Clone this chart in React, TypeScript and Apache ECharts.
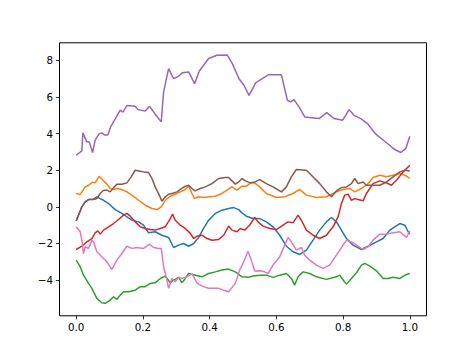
import React, { useEffect, useRef } from "react";
import * as echarts from "echarts";

const xTicks = [0, 0.2, 0.4, 0.6, 0.8, 1.0];
const yTicks = [-4, -2, 0, 2, 4, 6, 8];

const blue = [
  [0, -0.76], [0.009, -0.36], [0.017, 0], [0.027, 0.27], [0.037, 0.4], [0.052, 0.42], [0.062, 0.55],
  [0.072, 0.45], [0.082, 0.36], [0.097, 0.18], [0.117, -0.15], [0.137, -0.36], [0.152, -0.55],
  [0.167, -0.73], [0.187, -0.82], [0.202, -1.0], [0.217, -1.42], [0.237, -1.36], [0.257, -1.55],
  [0.277, -1.67], [0.292, -2.22], [0.307, -2.09], [0.322, -2.0], [0.337, -2.15], [0.352, -2.0],
  [0.367, -1.67], [0.382, -1.18], [0.397, -0.73], [0.417, -0.36], [0.437, -0.18], [0.457, -0.09],
  [0.472, -0.04], [0.487, -0.15], [0.497, -0.33], [0.51, -0.51], [0.53, -0.64], [0.55, -0.64],
  [0.57, -0.82], [0.59, -1.09], [0.61, -1.55], [0.63, -2.15], [0.65, -2.45], [0.67, -2.6],
  [0.69, -2.36], [0.71, -1.82], [0.73, -1.27], [0.75, -0.82], [0.765, -0.58], [0.78, -0.82],
  [0.795, -1.27], [0.81, -1.73], [0.83, -2.09], [0.855, -2.33], [0.875, -2.15], [0.9, -1.91],
  [0.92, -1.73], [0.94, -1.27], [0.955, -1.09], [0.97, -0.91], [0.985, -1.0], [0.995, -1.36],
  [1.0, -1.49],
];

const orange = [
  [0, 0.73], [0.012, 0.67], [0.027, 1.09], [0.037, 1.18], [0.049, 1.35], [0.057, 1.31],
  [0.069, 1.67], [0.082, 1.42], [0.092, 1.24], [0.102, 1.0], [0.112, 0.95], [0.122, 1.0],
  [0.137, 0.95], [0.152, 0.82], [0.167, 0.64], [0.187, 0.36], [0.207, 0.09], [0.227, -0.09],
  [0.242, -0.15], [0.255, 0], [0.267, 0.36], [0.282, 0.58], [0.297, 0.69], [0.312, 0.82],
  [0.327, 0.95], [0.337, 1.13], [0.347, 0.73], [0.355, 0.45], [0.367, 0.55], [0.382, 0.51],
  [0.397, 0.55], [0.417, 0.58], [0.437, 0.73], [0.452, 0.91], [0.467, 1.09], [0.482, 0.91],
  [0.497, 1.13], [0.51, 1.12], [0.52, 1.27], [0.53, 1.36], [0.55, 1.09], [0.57, 0.73],
  [0.6, 0.51], [0.625, 0.55], [0.65, 0.73], [0.67, 0.95], [0.69, 0.64], [0.72, 0.51],
  [0.75, 0.55], [0.78, 0.82], [0.8, 0.95], [0.82, 1.0], [0.835, 0.82], [0.855, 1.0],
  [0.875, 1.27], [0.89, 1.6], [0.91, 1.73], [0.93, 1.64], [0.95, 1.73], [0.97, 1.82],
  [0.985, 1.73], [1.0, 1.55],
];

const green = [
  [0, -2.91], [0.012, -3.27], [0.022, -3.73], [0.037, -4.18], [0.047, -4.45], [0.062, -5.0],
  [0.077, -5.24], [0.087, -5.27], [0.102, -5.09], [0.112, -4.91], [0.122, -5.05], [0.132, -4.82],
  [0.142, -4.64], [0.157, -4.64], [0.177, -4.55], [0.192, -4.36], [0.207, -4.36], [0.222, -4.18],
  [0.237, -4.15], [0.252, -3.91], [0.267, -3.78], [0.282, -4.15], [0.292, -4.0], [0.307, -3.85],
  [0.317, -4.15], [0.327, -3.91], [0.337, -3.64], [0.357, -3.73], [0.377, -3.82], [0.397, -3.64],
  [0.417, -3.55], [0.437, -3.45], [0.457, -3.4], [0.477, -3.55], [0.497, -3.82], [0.517, -3.85],
  [0.53, -3.78], [0.55, -3.73], [0.57, -3.73], [0.59, -3.85], [0.61, -3.73], [0.63, -3.64],
  [0.645, -3.91], [0.655, -4.27], [0.665, -3.82], [0.68, -3.55], [0.7, -3.64], [0.72, -3.82],
  [0.75, -3.96], [0.78, -3.82], [0.79, -3.73], [0.8, -4.0], [0.81, -4.22], [0.825, -3.91],
  [0.84, -3.6], [0.855, -3.18], [0.865, -3.09], [0.88, -3.24], [0.9, -3.49], [0.92, -3.91],
  [0.935, -3.91], [0.95, -3.85], [0.97, -3.91], [0.99, -3.69], [1.0, -3.64],
];

const red = [
  [0, -2.33], [0.017, -2.15], [0.032, -1.91], [0.047, -1.73], [0.057, -1.42], [0.065, -1.31],
  [0.072, -1.49], [0.082, -1.27], [0.097, -1.09], [0.112, -0.91], [0.127, -0.69], [0.142, -0.45],
  [0.152, -0.36], [0.162, -0.51], [0.177, -0.82], [0.192, -1.09], [0.207, -1.18], [0.222, -1.24],
  [0.237, -1.27], [0.252, -1.18], [0.267, -1.09], [0.282, -0.64], [0.289, -0.4], [0.297, -0.73],
  [0.312, -1.0], [0.327, -1.18], [0.342, -1.45], [0.352, -1.73], [0.362, -1.6], [0.377, -1.55],
  [0.392, -1.73], [0.407, -1.82], [0.427, -1.78], [0.442, -1.55], [0.457, -1.05], [0.467, -1.27],
  [0.482, -1.36], [0.492, -1.18], [0.505, -1.27], [0.52, -1.0], [0.535, -0.58], [0.545, -0.82],
  [0.56, -1.05], [0.58, -1.18], [0.6, -1.24], [0.62, -1.0], [0.635, -0.82], [0.65, -0.87],
  [0.665, -0.45], [0.675, -0.73], [0.69, -1.27], [0.71, -1.55], [0.73, -1.73], [0.75, -1.55],
  [0.77, -1.09], [0.785, -0.55], [0.795, 0.18], [0.805, 0.64], [0.815, 0.69], [0.825, 0.36],
  [0.835, 0.45], [0.845, 0.4], [0.86, 0.33], [0.87, 0.73], [0.89, 1.27], [0.91, 1.42],
  [0.93, 1.31], [0.945, 1.18], [0.96, 1.45], [0.98, 1.91], [1.0, 2.27],
];

const purple = [
  [0, 2.82], [0.017, 3.06], [0.02, 4.04], [0.032, 3.55], [0.039, 3.55], [0.049, 2.97],
  [0.057, 3.64], [0.069, 4.0], [0.077, 4.04], [0.085, 3.93], [0.095, 3.93], [0.104, 4.4],
  [0.117, 4.8], [0.132, 5.28], [0.14, 5.17], [0.152, 5.53], [0.177, 5.49], [0.185, 5.31],
  [0.207, 5.24], [0.22, 5.49], [0.237, 5.06], [0.255, 4.64], [0.262, 6.27], [0.277, 7.55],
  [0.292, 7.0], [0.307, 7.13], [0.319, 7.33], [0.337, 7.37], [0.355, 6.73], [0.369, 7.42],
  [0.397, 8.1], [0.422, 8.28], [0.453, 8.29], [0.468, 7.82], [0.488, 7.0], [0.503, 6.64],
  [0.518, 6.09], [0.538, 6.77], [0.553, 6.95], [0.577, 7.22], [0.615, 7.22], [0.633, 5.82],
  [0.643, 5.73], [0.653, 5.86], [0.668, 5.46], [0.685, 4.91], [0.728, 4.82], [0.751, 5.15],
  [0.773, 4.82], [0.798, 4.73], [0.808, 5.0], [0.818, 5.31], [0.833, 5.0], [0.853, 4.82],
  [0.873, 4.55], [0.898, 3.97], [0.933, 3.46], [0.955, 3.13], [0.973, 2.97], [0.988, 3.19],
  [1.0, 3.86],
];

const brown = [
  [0, -0.76], [0.009, -0.36], [0.017, 0], [0.027, 0.27], [0.037, 0.4], [0.052, 0.4],
  [0.062, 0.45], [0.072, 0.73], [0.082, 0.91], [0.092, 0.91], [0.102, 0.82], [0.112, 1.05],
  [0.122, 1.24], [0.137, 1.24], [0.152, 1.31], [0.165, 1.64], [0.177, 2.0], [0.192, 1.95],
  [0.202, 1.91], [0.217, 1.87], [0.227, 1.55], [0.237, 1.09], [0.249, 0.64], [0.257, 0.31],
  [0.267, 0.55], [0.277, 0.69], [0.287, 0.73], [0.302, 0.82], [0.312, 0.95], [0.327, 1.13],
  [0.337, 1.18], [0.347, 1.0], [0.357, 0.87], [0.372, 1.0], [0.387, 1.09], [0.407, 1.27],
  [0.427, 1.55], [0.447, 1.6], [0.457, 1.6], [0.467, 1.42], [0.477, 1.24], [0.487, 1.36],
  [0.497, 1.55], [0.507, 1.42], [0.522, 1.31], [0.53, 1.31], [0.55, 1.49], [0.57, 1.27],
  [0.59, 1.09], [0.615, 0.82], [0.63, 1.09], [0.645, 1.64], [0.66, 2.04], [0.69, 2.0],
  [0.705, 1.73], [0.73, 1.27], [0.75, 0.82], [0.765, 0.55], [0.78, 0.87], [0.795, 1.05],
  [0.81, 1.09], [0.825, 1.27], [0.835, 1.55], [0.845, 1.27], [0.86, 1.36], [0.87, 1.18],
  [0.89, 1.18], [0.91, 1.18], [0.93, 1.36], [0.95, 1.64], [0.97, 1.91], [0.985, 2.0],
  [1.0, 1.96],
];

const pink = [
  [0, -1.09], [0.012, -1.36], [0.017, -1.82], [0.022, -2.55], [0.027, -2.18], [0.037, -2.27],
  [0.047, -1.82], [0.052, -1.91], [0.062, -2.45], [0.077, -2.73], [0.092, -3.0], [0.107, -3.42],
  [0.122, -2.91], [0.137, -2.55], [0.152, -2.15], [0.167, -2.27], [0.182, -2.22], [0.202, -2.27],
  [0.22, -2.04], [0.232, -2.22], [0.247, -2.27], [0.255, -2.27], [0.262, -3.27], [0.272, -4.0],
  [0.277, -4.45], [0.287, -3.91], [0.297, -4.09], [0.307, -3.85], [0.317, -3.91], [0.332, -3.82],
  [0.347, -3.64], [0.362, -4.15], [0.377, -4.33], [0.397, -4.45], [0.427, -4.45], [0.442, -4.55],
  [0.457, -4.64], [0.477, -4.18], [0.49, -3.45], [0.5, -3.09], [0.515, -2.42], [0.525, -2.91],
  [0.535, -3.5], [0.55, -3.49], [0.565, -3.55], [0.575, -3.64], [0.59, -3.18], [0.61, -2.73],
  [0.625, -2.09], [0.635, -1.67], [0.645, -1.91], [0.66, -2.36], [0.675, -2.22], [0.685, -2.64],
  [0.7, -2.91], [0.72, -3.18], [0.74, -3.36], [0.76, -3.18], [0.78, -2.64], [0.8, -2.09],
  [0.81, -1.82], [0.83, -1.96], [0.845, -2.15], [0.86, -2.33], [0.875, -2.18], [0.89, -1.82],
  [0.91, -1.49], [0.93, -1.49], [0.95, -1.42], [0.97, -1.36], [0.99, -1.67], [1.0, -1.31],
];

const seriesList = [
  { name: "C0", data: blue, color: "#1f77b4" },
  { name: "C1", data: orange, color: "#ff7f0e" },
  { name: "C2", data: green, color: "#2ca02c" },
  { name: "C3", data: red, color: "#d62728" },
  { name: "C4", data: purple, color: "#9467bd" },
  { name: "C5", data: brown, color: "#8c564b" },
  { name: "C6", data: pink, color: "#e377c2" },
];

export default function App() {
  const ref = useRef<HTMLDivElement>(null);
  useEffect(() => {
    document.body.style.margin = "0";
    const chart = echarts.init(ref.current!, null, { renderer: "svg" });
    const font = { fontFamily: "DejaVu Sans", fontSize: 10.3, color: "#000" };
    chart.setOption({
      animation: false,
      backgroundColor: "#fff",
      grid: {
        left: 59.5,
        right: 47.5,
        top: 42.8,
        bottom: 39.2,
        show: true,
        borderColor: "#000",
        borderWidth: 1,
        containLabel: false,
      },
      xAxis: {
        type: "value",
        min: -0.05,
        max: 1.05,
        axisLine: { show: false, onZero: false },
        splitLine: { show: false },
        axisTick: { show: true, length: 3.6, lineStyle: { color: "#000", width: 0.8 }, customValues: xTicks },
        axisLabel: {
          ...font,
          margin: 6.5,
          customValues: xTicks,
          formatter: (v: number) => v.toFixed(1),
        },
      },
      yAxis: {
        type: "value",
        min: -5.95,
        max: 8.96,
        axisLine: { show: false, onZero: false },
        splitLine: { show: false },
        axisTick: { show: true, length: 3.6, lineStyle: { color: "#000", width: 0.8 }, customValues: yTicks },
        axisLabel: {
          ...font,
          margin: 6.5,
          customValues: yTicks,
          formatter: (v: number) => String(v).replace("-", "\u2212"),
        },
      },
      series: seriesList.map((s) => ({
        name: s.name,
        type: "line",
        data: s.data,
        showSymbol: false,
        symbol: "none",
        lineStyle: { color: s.color, width: 1.5 },
        itemStyle: { color: s.color },
      })),
    });
    return () => chart.dispose();
  }, []);
  return <div ref={ref} style={{ width: 474, height: 355 }} />;
}
